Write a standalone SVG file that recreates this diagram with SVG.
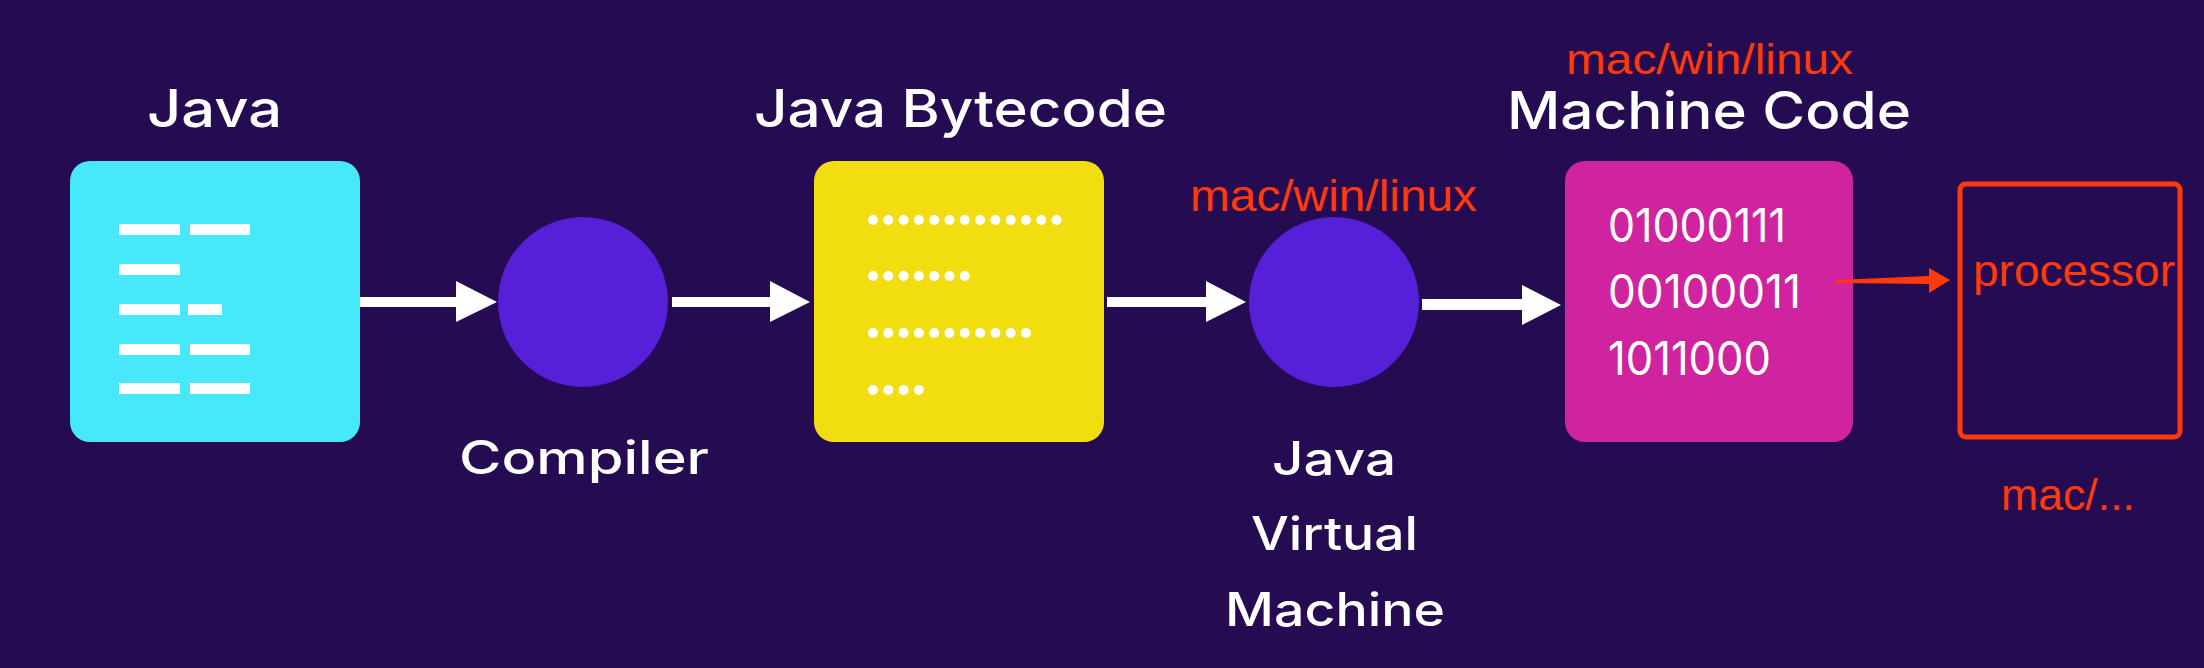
<svg xmlns="http://www.w3.org/2000/svg" width="2204" height="668" viewBox="0 0 2204 668">
<style>
.lbl{font-family:Inter,"Open Sans","Liberation Sans",sans-serif;fill:#fff;font-weight:500}
.red{font-family:"Liberation Sans",Arial,sans-serif;fill:#ff3a0a}
.bin{font-family:Inter,"Open Sans","Liberation Sans",sans-serif;fill:#fff;font-size:46px}
.arr{fill:#fff}
.dash{fill:#fff}
.dot{fill:#fff}
</style>
<defs>
<g id="dot"><ellipse cx="0" cy="0" rx="5" ry="5" class="dot"/></g>
</defs>
<rect width="2204" height="668" fill="#250c52"/>
<g id="java">
<rect x="70" y="161" width="290" height="281" rx="20" fill="#46e8fa"/>
<rect x="119" y="224" width="61" height="11" class="dash"/><rect x="190" y="224" width="60" height="11" class="dash"/>
<rect x="119" y="264" width="61" height="11" class="dash"/>
<rect x="119" y="304" width="61" height="11" class="dash"/><rect x="188" y="304" width="34" height="11" class="dash"/>
<rect x="119" y="344" width="61" height="11" class="dash"/><rect x="190" y="344" width="60" height="11" class="dash"/>
<rect x="119" y="383" width="61" height="11" class="dash"/><rect x="190" y="383" width="60" height="11" class="dash"/>
<text class="lbl" x="147" y="127" font-size="52" textLength="135" lengthAdjust="spacingAndGlyphs">Java</text>
</g>
<g id="compiler">
<circle cx="583" cy="302" r="85" fill="#561fd8"/>
<text class="lbl" x="459" y="474" font-size="46" textLength="250" lengthAdjust="spacingAndGlyphs">Compiler</text>
</g>
<g id="bytecode">
<rect x="814" y="161" width="290" height="281" rx="20" fill="#f2dd10"/>
<g id="dots" fill="#fff">
<g transform="translate(873,220)"><use href="#dot" x="0"/><use href="#dot" x="15.3"/><use href="#dot" x="30.6"/><use href="#dot" x="45.9"/><use href="#dot" x="61.2"/><use href="#dot" x="76.5"/><use href="#dot" x="91.8"/><use href="#dot" x="107.1"/><use href="#dot" x="122.4"/><use href="#dot" x="137.7"/><use href="#dot" x="153"/><use href="#dot" x="168.3"/><use href="#dot" x="183.6"/></g>
<g transform="translate(873,276)"><use href="#dot" x="0"/><use href="#dot" x="15.3"/><use href="#dot" x="30.6"/><use href="#dot" x="45.9"/><use href="#dot" x="61.2"/><use href="#dot" x="76.5"/><use href="#dot" x="91.8"/></g>
<g transform="translate(873,333)"><use href="#dot" x="0"/><use href="#dot" x="15.3"/><use href="#dot" x="30.6"/><use href="#dot" x="45.9"/><use href="#dot" x="61.2"/><use href="#dot" x="76.5"/><use href="#dot" x="91.8"/><use href="#dot" x="107.1"/><use href="#dot" x="122.4"/><use href="#dot" x="137.7"/><use href="#dot" x="153"/></g>
<g transform="translate(873,390)"><use href="#dot" x="0"/><use href="#dot" x="15.3"/><use href="#dot" x="30.6"/><use href="#dot" x="45.9"/></g>
</g>
<text class="lbl" x="754" y="127" font-size="52" textLength="413" lengthAdjust="spacingAndGlyphs">Java Bytecode</text>
</g>
<g id="jvm">
<circle cx="1334" cy="302" r="85" fill="#561fd8"/>
<text class="red" x="1190" y="211" font-size="44" textLength="287" lengthAdjust="spacingAndGlyphs">mac/win/linux</text>
<text class="lbl" x="1272" y="475" font-size="46" textLength="124" lengthAdjust="spacingAndGlyphs">Java</text>
<text class="lbl" x="1251" y="550" font-size="46" textLength="167" lengthAdjust="spacingAndGlyphs">Virtual</text>
<text class="lbl" x="1225" y="626" font-size="46" textLength="220" lengthAdjust="spacingAndGlyphs">Machine</text>
</g>
<g id="machinecode">
<rect x="1565" y="161" width="288" height="281" rx="20" fill="#d023a0"/>
<text class="bin" x="1608" y="242" textLength="178" lengthAdjust="spacingAndGlyphs">01000111</text>
<text class="bin" x="1608" y="308" textLength="193" lengthAdjust="spacingAndGlyphs">00100011</text>
<text class="bin" x="1608" y="375" textLength="163" lengthAdjust="spacingAndGlyphs">1011000</text>
<text class="lbl" x="1507" y="129" font-size="52" textLength="404" lengthAdjust="spacingAndGlyphs">Machine Code</text>
<text class="red" x="1566" y="74" font-size="42" textLength="287" lengthAdjust="spacingAndGlyphs">mac/win/linux</text>
</g>
<g id="processor">
<rect x="1960" y="184" width="220" height="253" rx="6" fill="none" stroke="#ff3a0a" stroke-width="5"/>
<text class="red" x="1973" y="286" font-size="44" textLength="202" lengthAdjust="spacingAndGlyphs">processor</text>
<text class="red" x="2001" y="510" font-size="44" textLength="134" lengthAdjust="spacingAndGlyphs">mac/...</text>
</g>
<g id="connectors">
<polygon class="arr" points="360,297 456,297 456,281 497,302 456,322 456,307 360,307"/>
<polygon class="arr" points="672,297 770,297 770,281 810,302 770,322 770,307 672,307"/>
<polygon class="arr" points="1107,297 1206,297 1206,281 1246,302 1206,322 1206,307 1107,307"/>
<polygon class="arr" points="1422,299 1522,299 1522,285 1561,305 1522,325 1522,310 1422,310"/>
<polygon fill="#ff3a0a" points="1836,280 1929,276 1929,268 1950,280 1929,293 1929,284 1836,283"/>
</g>
</svg>
